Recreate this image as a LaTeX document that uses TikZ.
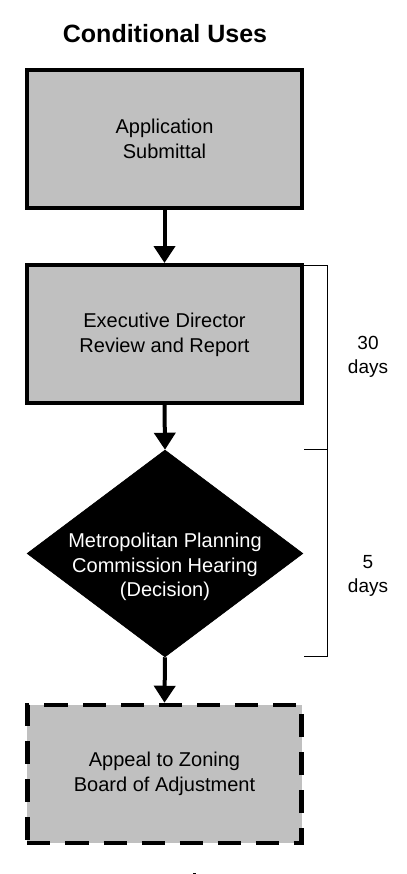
\documentclass[tikz,border=0pt]{standalone}
\usepackage{fontspec}
\setmainfont{Liberation Sans}
\usetikzlibrary{arrows.meta,shapes.geometric}
\definecolor{boxgray}{RGB}{192,192,192}
\tikzset{
  stepbox/.style={draw=black, line width=4bp, fill=boxgray, minimum width=274bp, minimum height=138bp, inner sep=0pt},
  dashbox/.style={stepbox, line width=4.5bp, dash pattern=on 23bp off 15bp},
  decision/.style={diamond, fill=black, draw=black, line width=0.5bp, minimum width=276bp, minimum height=207bp, inner sep=0pt},
  boxtext/.style={align=center, font=\fontsize{20bp}{24.5bp}\selectfont},
  flowarrow/.style={line width=4bp, -{Triangle[length=17bp,width=21bp]}},
  bracketline/.style={line width=1bp},
}
\begin{document}
\begin{tikzpicture}[x=1bp,y=-1bp]
\useasboundingbox (0,0) rectangle (406,874);
\node[font=\fontsize{25bp}{30bp}\selectfont\bfseries] (title) at (165,34) {Conditional Uses};
\node[stepbox] (app) at (164.5,139) {};
\node[boxtext] (apptext) at (164.5,139) {Application\\Submittal};
\node[stepbox] (exec) at (164.5,334) {};
\node[boxtext] (exectext) at (164.5,335) {Executive Director\\Review and Report};
\node[decision] (mpc) at (165,553.5) {};
\node[boxtext, text=white] (mpctext) at (165,567) {Metropolitan Planning\\Commission Hearing\\(Decision)};
\node[dashbox] (appeal) at (164.5,774) {};
\node[boxtext] (appealtext) at (164.5,774) {Appeal to Zoning\\Board of Adjustment};
\draw[flowarrow] (app.south) -- (exec.north);
\draw[flowarrow] (exec.south) -- (mpc.north);
\draw[flowarrow] (mpc.south) -- (appeal.north);
\coordinate (b1) at (304,265);
\coordinate (b2) at (327,265);
\coordinate (b3) at (327,656);
\coordinate (b4) at (304,656);
\coordinate (m1) at (304,449);
\coordinate (m2) at (327,449);
\draw[bracketline] (b1) -- (b2) -- (b3) -- (b4);
\draw[bracketline] (m1) -- (m2);
\node[boxtext, font=\fontsize{19bp}{24bp}\selectfont] (d30) at (368,357) {30\\days};
\node[boxtext, font=\fontsize{19bp}{24bp}\selectfont] (d5) at (368,576) {5\\days};
\fill (193,872.5) rectangle (196,873.5);
\end{tikzpicture}
\end{document}
